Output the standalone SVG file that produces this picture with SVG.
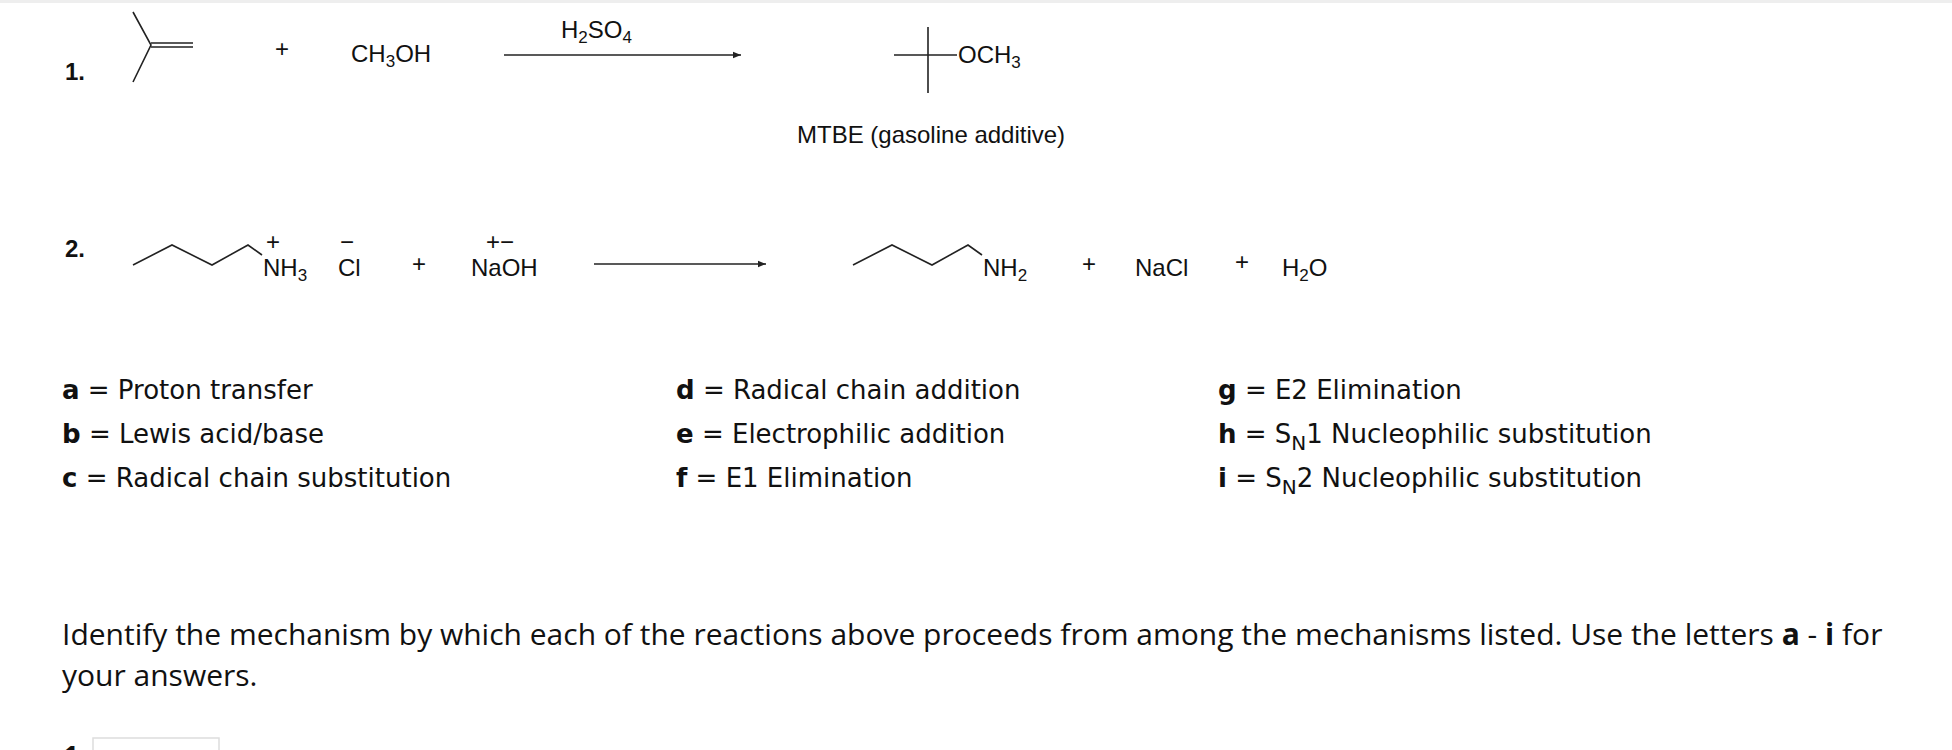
<svg xmlns="http://www.w3.org/2000/svg" width="1952" height="750" viewBox="0 0 1952 750">
<defs>
<style>
.chem{font-family:"Liberation Sans",Arial,sans-serif;font-size:24px;fill:#111}
.sub{font-size:17px}
.bond{stroke:#222;stroke-width:1.6;fill:none}
.num{font-family:"Liberation Sans",Arial,sans-serif;font-size:24px;font-weight:bold;fill:#111}
.leg{font-family:"Open Sans","Noto Sans",sans-serif;font-size:30px;fill:#111}
.key{font-family:"DejaVu Sans",Verdana,sans-serif;font-size:26px;fill:#111}
.b{font-weight:bold}
</style>
<marker id="ah" viewBox="0 0 10 10" refX="10" refY="5" markerWidth="10" markerHeight="8" markerUnits="userSpaceOnUse" orient="auto"><path d="M0,1 L10,5 L0,9 z" fill="#222"/></marker>
</defs>
<rect width="1952" height="750" fill="#fff"/>
<rect width="1952" height="3" fill="#eee"/>
<g id="reaction1">
<text class="num" x="65" y="80">1.</text>
<path class="bond" d="M133,12 L151,45 L133,82"/>
<path class="bond" d="M151,43 L193,43 M151,47 L193,47"/>
<text class="chem" x="275" y="57" font-size="16">+</text>
<text class="chem" x="351" y="62">CH<tspan class="sub" dy="5">3</tspan><tspan dy="-5">OH</tspan></text>
<text class="chem" x="561" y="38">H<tspan class="sub" dy="5">2</tspan><tspan dy="-5">SO</tspan><tspan class="sub" dy="5">4</tspan></text>
<path class="bond" d="M928,27 L928,93 M894,55 L957,55"/>
<text class="chem" x="958" y="63">OCH<tspan class="sub" dy="5">3</tspan></text>
<text class="chem" x="797" y="143">MTBE (gasoline additive)</text>
</g>
<g id="reaction2">
<text class="num" x="65" y="257">2.</text>
<path class="bond" d="M133,265 L172,245 L212,265 L248,245 L262,255"/>
<text class="chem" x="263" y="276">NH<tspan class="sub" dy="5">3</tspan></text>
<text class="chem" x="266" y="250" font-size="18">+</text>
<text class="chem" x="338" y="276">Cl</text>
<text class="chem" x="340" y="250" font-size="18">−</text>
<text class="chem" x="412" y="272" font-size="16">+</text>
<text class="chem" x="471" y="276">NaOH</text>
<text class="chem" x="486" y="250" font-size="18">+</text>
<text class="chem" x="500" y="250" font-size="18">−</text>
<path class="bond" d="M853,265 L892,245 L932,265 L968,245 L982,255"/>
<text class="chem" x="983" y="276">NH<tspan class="sub" dy="5">2</tspan></text>
<text class="chem" x="1082" y="272" font-size="16">+</text>
<text class="chem" x="1135" y="276">NaCl</text>
<text class="chem" x="1235" y="270" font-size="16">+</text>
<text class="chem" x="1282" y="276">H<tspan class="sub" dy="5">2</tspan><tspan dy="-5">O</tspan></text>
</g>
<g id="connectors">
<line class="bond" x1="504" y1="55" x2="741" y2="55" marker-end="url(#ah)"/>
<line class="bond" x1="594" y1="264" x2="766" y2="264" marker-end="url(#ah)"/>
</g>
<g id="legend">
<text class="key" x="62" y="399"><tspan class="b">a</tspan> = Proton transfer</text>
<text class="key" x="62" y="443"><tspan class="b">b</tspan> = Lewis acid/base</text>
<text class="key" x="62" y="487"><tspan class="b">c</tspan> = Radical chain substitution</text>
<text class="key" x="676" y="399"><tspan class="b">d</tspan> = Radical chain addition</text>
<text class="key" x="676" y="443"><tspan class="b">e</tspan> = Electrophilic addition</text>
<text class="key" x="676" y="487"><tspan class="b">f</tspan> = E1 Elimination</text>
<text class="key" x="1218" y="399"><tspan class="b">g</tspan> = E2 Elimination</text>
<text class="key" x="1218" y="443"><tspan class="b">h</tspan> = S<tspan font-size="20" dy="7">N</tspan><tspan dy="-7">1 Nucleophilic substitution</tspan></text>
<text class="key" x="1218" y="487"><tspan class="b">i</tspan> = S<tspan font-size="20" dy="7">N</tspan><tspan dy="-7">2 Nucleophilic substitution</tspan></text>
</g>
<g id="question">
<text class="leg" x="62" y="645">Identify the mechanism by which each of the reactions above proceeds from among the mechanisms listed. Use the letters <tspan class="b">a</tspan> - <tspan class="b">i</tspan> for</text>
<text class="leg" x="62" y="686">your answers.</text>
<text class="leg b" x="62" y="768">1.</text>
<rect x="93" y="738" width="126" height="30" fill="#fff" stroke="#ddd" stroke-width="1.5"/>
</g>
</svg>
